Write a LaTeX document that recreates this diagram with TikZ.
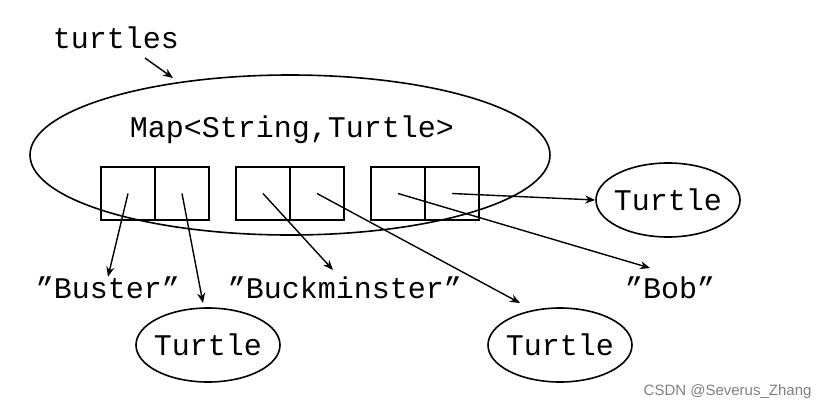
\documentclass[tikz,border=0pt]{standalone}
\usepackage{fontspec}
\setmainfont{Liberation Mono}
\newfontfamily\wm{Liberation Sans}
\usetikzlibrary{arrows.meta,shapes.geometric}
\newcommand{\dq}{\symbol{34}}
\begin{document}
\begin{tikzpicture}[x=1pt,y=-1pt,
  lbl/.style={font=\fontsize{30}{32}\selectfont, inner sep=0},
  ell/.style={draw, line width=1.6pt, ellipse, minimum width=144pt, minimum height=74pt, inner sep=0},
  box/.style={draw, line width=1.6pt, minimum width=54pt, minimum height=53pt, inner sep=0},
  arr/.style={line width=1.4pt, -{Stealth[length=10pt,width=8pt]}}]
\useasboundingbox (0,0) rectangle (830,410);
\node[lbl] (tl) at (116,38) {turtles};
\draw[line width=1.6pt] (290,155) ellipse [x radius=260, y radius=80];
\coordinate (et) at (173,78);
\draw[arr] (145,58) -- (et);
\node[lbl] (map) at (292,130) {Map<String,Turtle>};
\foreach \i/\x in {1/128,2/182,3/263,4/317,5/398,6/452}
  \node[box] (b\i) at (\x,193.5) {};
\node[ell] (t1) at (668,200) {}; \node[lbl] at (t1) {Turtle};
\node[ell] (t2) at (208,345) {}; \node[lbl] at (t2) {Turtle};
\node[ell] (t3) at (560,345) {}; \node[lbl] at (t3) {Turtle};
\node[lbl] (s1) at (108,288) {\dq Buster\dq};
\node[lbl] (s2) at (345,288) {\dq Buckminster\dq};
\node[lbl] (s3) at (670,288) {\dq Bob\dq};
\coordinate (e2) at (203,303);
\coordinate (e4) at (520,303);
\draw[arr] (b1.center) -- (s1.north);
\draw[arr] (b2.center) -- (e2);
\draw[arr] (b3.center) -- (333,270);
\draw[arr] (b4.center) -- (e4);
\draw[arr] (b5.center) -- (650,268);
\draw[arr] (b6.center) -- (t1.west);
\node[font=\wm\fontsize{15}{17}\selectfont, text=gray, anchor=east] (w) at (815,392) {CSDN @Severus\_Zhang};
\end{tikzpicture}
\end{document}
